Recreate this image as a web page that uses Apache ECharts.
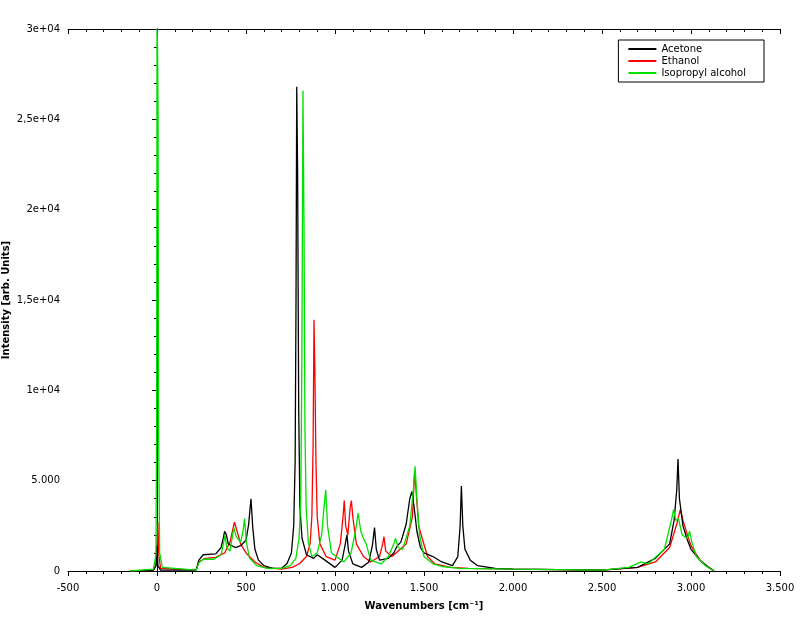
<!DOCTYPE html>
<html><head><meta charset="utf-8">
<script src="https://cdn.jsdelivr.net/npm/echarts@6/dist/echarts.min.js"></script>
<style>html,body{margin:0;padding:0;background:#fff}#c{width:800px;height:637px}</style>
</head><body><div id="c"></div>
<script>
const seriesNames = ["Acetone", "Ethanol", "Isopropyl alcohol"];
const xTickLabels = ["-500","0","500","1.000","1.500","2.000","2.500","3.000","3.500"];
const yTickLabels = {0:"0",5000:"5.000",10000:"1e+04",15000:"1,5e+04",20000:"2e+04",25000:"2,5e+04",30000:"3e+04"};
const acetone = [[-150,0],[-20,50],[-5,300],[0,1400],[5,300],[20,50],[220,50],[235,600],[260,900],[330,950],[360,1300],[372,1800],[380,2200],[390,2000],[400,1500],[440,1300],[470,1400],[500,1700],[515,2600],[528,4000],[538,2400],[550,1200],[570,600],[600,300],[650,150],[700,150],[730,400],[755,1000],[768,2500],[776,6000],[781,15000],[785,26800],[790,22000],[796,9000],[803,3500],[815,1800],[840,900],[880,700],[900,900],[910,1000],[930,700],[1000,200],[1040,600],[1058,1500],[1067,2000],[1076,1100],[1100,400],[1150,200],[1190,500],[1210,1400],[1222,2400],[1232,1200],[1250,600],[1300,700],[1330,1000],[1350,1400],[1370,1600],[1400,2600],[1420,4000],[1432,4400],[1445,3500],[1460,2200],[1480,1300],[1500,1000],[1550,800],[1600,500],[1660,300],[1690,800],[1703,2500],[1710,4700],[1718,2500],[1730,1200],[1760,600],[1800,300],[1900,150],[2000,100],[2500,50],[2700,200],[2800,700],[2880,1500],[2905,2800],[2920,4500],[2927,6200],[2935,4000],[2955,2500],[2980,1700],[3000,1200],[3050,600],[3100,200],[3130,0]];
const ethanol = [[-150,0],[-20,50],[-5,400],[0,1500],[5,2700],[10,900],[20,150],[220,50],[235,500],[270,700],[330,750],[380,1000],[410,1600],[435,2700],[450,2200],[470,1500],[500,1000],[550,500],[600,200],[700,100],[760,200],[800,400],[840,800],[860,1500],[870,3000],[877,7000],[882,13900],[887,11000],[893,6000],[900,3000],[915,1500],[950,800],[1000,600],[1030,1500],[1045,3000],[1052,3900],[1060,2500],[1072,2000],[1085,3500],[1092,3900],[1100,3000],[1120,1500],[1160,800],[1200,500],[1250,800],[1268,1500],[1275,1900],[1285,1100],[1320,800],[1400,1500],[1435,3000],[1447,5500],[1455,4500],[1470,2500],[1490,1800],[1520,800],[1560,400],[1650,200],[1750,150],[2000,100],[2500,50],[2700,200],[2800,500],[2880,1300],[2920,2600],[2940,3400],[2955,2800],[2980,2000],[3000,1400],[3050,600],[3100,200],[3130,0]];
const isopropyl = [[-150,0],[-20,100],[-6,900],[-2,8000],[0,30000],[3,29000],[6,25500],[9,8000],[15,1000],[30,200],[220,50],[235,450],[260,650],[320,650],[360,900],[375,1600],[382,2000],[392,1300],[410,1100],[425,2000],[432,2400],[445,1900],[470,1600],[483,2200],[492,2900],[502,1600],[520,700],[560,300],[620,150],[700,150],[750,300],[780,700],[798,1800],[808,4000],[814,12000],[820,26600],[826,19000],[831,8000],[838,3500],[850,1600],[870,800],[900,1000],[925,2000],[940,3700],[948,4500],[958,2500],[980,1000],[1050,500],[1090,1000],[1115,2200],[1130,3200],[1145,2200],[1160,1800],[1175,1500],[1200,600],[1260,400],[1300,800],[1330,1500],[1340,1800],[1355,1300],[1380,1200],[1420,2500],[1440,4500],[1450,5800],[1460,4000],[1475,2000],[1500,800],[1550,400],[1600,250],[1700,150],[2000,100],[2500,50],[2650,200],[2720,500],[2760,400],[2850,1200],[2890,2800],[2902,3400],[2915,2800],[2930,2900],[2950,2000],[2980,1800],[2992,2200],[3005,1600],[3030,800],[3080,300],[3130,0]];

const colors = ["#000000","#ff0000","#00e000"];
const font = "DejaVu Sans";
const chart = echarts.init(document.getElementById('c'));
const mkX = (pos, show) => ({type:'value', position:pos, min:-500, max:3500, interval:500,
  axisLine:{onZero:false, lineStyle:{color:'#000'}},
  axisTick:{show:true, inside: !show, length:5, lineStyle:{color:'#000'}},
  minorTick:{show:true, splitNumber:5, length:3, lineStyle:{color:'#000'}},
  splitLine:{show:false},
  axisLabel:{show:show, color:'#000', fontFamily:font, fontSize:10, margin:12,
    formatter:v=>xTickLabels[Math.round((v+500)/500)]},
  name: show?"Wavenumbers [cm⁻¹]":"", nameLocation:'middle', nameGap:30, nameMoveOverlap:false,
  nameTextStyle:{fontFamily:font, fontSize:10, fontWeight:'bold', color:'#000'}});
const mkY = (pos, show) => ({type:'value', position:pos, min:0, max:30000, interval:5000,
  axisLine:{show:true, lineStyle:{color:'#000'}},
  axisTick:{show:true, inside: !show, length:5, lineStyle:{color:'#000'}},
  minorTick:{show:true, splitNumber:5, length:3, lineStyle:{color:'#000'}},
  splitLine:{show:false},
  axisLabel:{show:show, color:'#000', fontFamily:font, fontSize:10, margin:8,
    formatter:v=>yTickLabels[v]},
  name: show?"Intensity [arb. Units]":"", nameLocation:'middle', nameGap:57, nameMoveOverlap:false,
  nameTextStyle:{fontFamily:font, fontSize:10, fontWeight:'bold', color:'#000'}});
const data = [acetone, ethanol, isopropyl];
chart.setOption({
  animation:false,
  grid:{left:68, right:20, top:29, bottom:66, containLabel:false, outerBoundsMode:'none'},
  legend:{orient:'vertical', right:36, top:40, itemWidth:28, itemHeight:2, itemGap:2,
    icon:'rect', borderColor:'#000', borderWidth:1, padding:[4,18,4,10],
    backgroundColor:'#fff',
    textStyle:{fontFamily:font, fontSize:10, color:'#000'}, data:seriesNames},
  xAxis:[mkX('bottom', true), mkX('top', false)],
  yAxis:[mkY('left', true), mkY('right', false)],
  series: data.map((d,i)=>({name:seriesNames[i], type:'line', data:d, showSymbol:false,
    color:colors[i], lineStyle:{width:1.3, color:colors[i]}, z:3-i+ (i==2?5:0)}))
});
</script></body></html>
